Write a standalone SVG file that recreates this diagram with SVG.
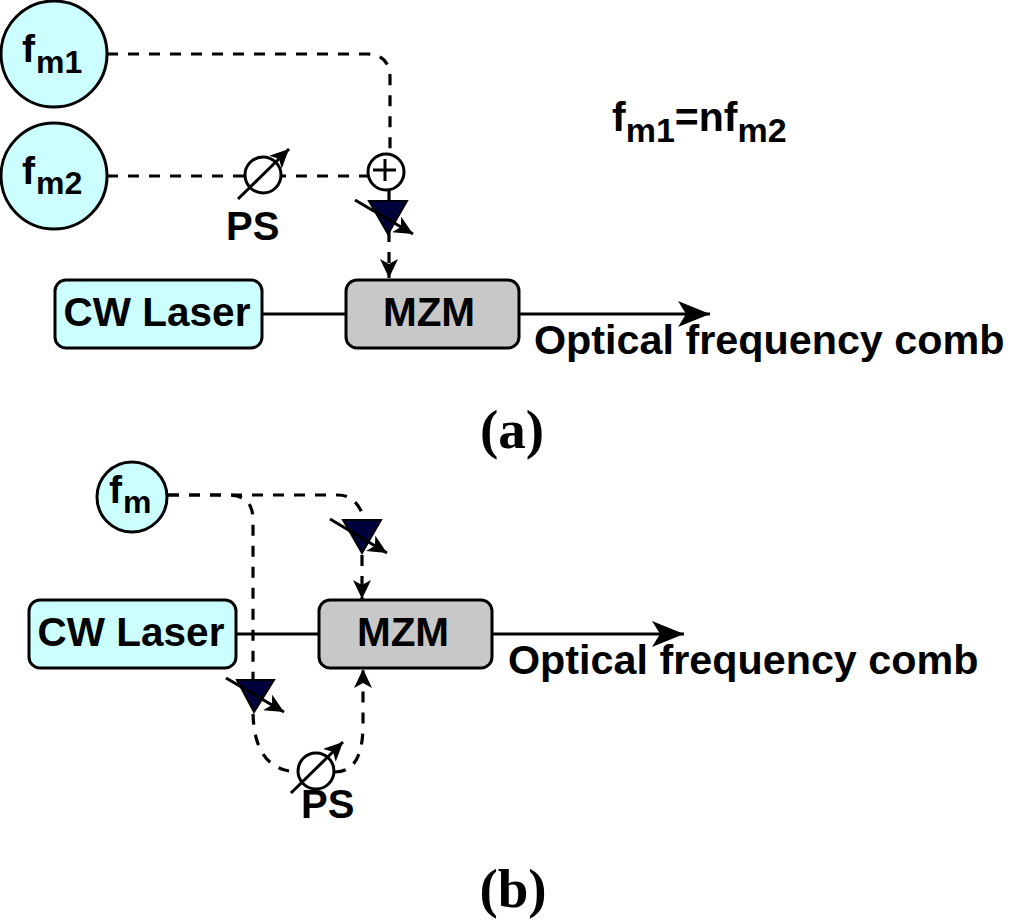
<svg xmlns="http://www.w3.org/2000/svg" width="1025" height="922" viewBox="0 0 1025 922">
<defs>
<marker id="big" markerUnits="userSpaceOnUse" markerWidth="34" markerHeight="26" refX="32" refY="13" orient="auto"><path d="M0 0L32 13L0 26L8 13Z" fill="#000"/></marker>
<marker id="small" markerUnits="userSpaceOnUse" markerWidth="20" markerHeight="18" refX="19" refY="9" orient="auto"><path d="M0 0L19 9L0 18L5 9Z" fill="#000"/></marker>
</defs>
<style>
.t{font-family:"Liberation Sans",Arial,sans-serif;font-weight:700;fill:#000}
.cap{font-family:"Liberation Serif","Times New Roman",serif;font-weight:700;font-size:55px;fill:#000}
.n{stroke:#000;stroke-width:3}
.cy{fill:#ccffff}
.gr{fill:#c8c8c8}
.d{fill:none;stroke:#000;stroke-width:3.2;stroke-dasharray:11 10}
.s{fill:none;stroke:#000;stroke-width:3}
.tri{fill:#00003c;stroke:#000;stroke-width:2}
.c{fill:#fff;stroke:#000;stroke-width:3}
</style>
<g id="connectors">
<path class="d" d="M107 54H366Q390 54 390 78V155"/>
<path class="d" d="M107 176H368"/>
<path class="d" d="M389 189V278" marker-end="url(#small)"/>
<path class="s" d="M263 314H345"/>
<path class="s" d="M519 314H710" marker-end="url(#big)"/>
<path class="d" d="M168 495H338Q358 495 365 522"/>
<path class="d" d="M168 495H228Q253 495 253 520V710Q253 772 300 772"/>
<path class="d" d="M362 555V599" marker-end="url(#small)"/>
<path class="d" d="M335 772Q363 772 363 725V669" marker-end="url(#small)"/>
<path class="s" d="M237 634H319"/>
<path class="s" d="M492 634H684" marker-end="url(#big)"/>
</g>
<g id="fm1"><circle class="n cy" cx="54" cy="54" r="53"/><text class="t" x="22" y="62" font-size="39">f<tspan font-size="32" dy="11" dx="1">m1</tspan></text></g>
<g id="fm2"><circle class="n cy" cx="54" cy="176" r="53"/><text class="t" x="22" y="184" font-size="39">f<tspan font-size="32" dy="10" dx="1">m2</tspan></text></g>
<g id="equation"><text class="t" x="612" y="131" font-size="41">f<tspan font-size="34" dy="11">m1</tspan><tspan dy="-11">=nf</tspan><tspan font-size="34" dy="11">m2</tspan></text></g>
<g id="ps-a"><circle class="c" cx="263" cy="175" r="18"/><path class="s" d="M238 199L289 149" marker-end="url(#small)"/><text class="t" x="226" y="240" font-size="40">PS</text></g>
<g id="combiner"><circle class="c" cx="386" cy="172" r="18"/><path class="s" d="M373 170H396M385 159V181" stroke-width="2.5"/></g>
<g id="amp-a"><path class="tri" d="M369 201H407L388 234Z"/><path class="s" d="M355 200L413 234" marker-end="url(#small)"/></g>
<g id="laser-a"><rect class="n cy" x="55" y="280" width="207" height="68" rx="11"/><text class="t" x="157" y="326" font-size="40.5" text-anchor="middle">CW Laser</text></g>
<g id="mzm-a"><rect class="n gr" x="346" y="280" width="173" height="68" rx="11"/><text class="t" x="429" y="326" font-size="40.5" text-anchor="middle">MZM</text></g>
<g id="label-comb-a"><text class="t" x="534" y="354" font-size="41.3">Optical frequency comb</text></g>
<g id="caption-a"><text class="cap" x="512" y="448" text-anchor="middle">(a)</text></g>
<g id="fm"><circle class="n cy" cx="132" cy="497" r="35"/><text class="t" x="109" y="503" font-size="39">f<tspan font-size="32" dy="10" dx="1">m</tspan></text></g>
<g id="amp-b1"><path class="tri" d="M343 520H381L362 553Z"/><path class="s" d="M330 519L387 553" marker-end="url(#small)"/></g>
<g id="laser-b"><rect class="n cy" x="29" y="600" width="207" height="68" rx="11"/><text class="t" x="131" y="646" font-size="40.5" text-anchor="middle">CW Laser</text></g>
<g id="mzm-b"><rect class="n gr" x="319" y="600" width="173" height="68" rx="11"/><text class="t" x="403" y="646" font-size="40.5" text-anchor="middle">MZM</text></g>
<g id="label-comb-b"><text class="t" x="508" y="674" font-size="41.3">Optical frequency comb</text></g>
<g id="amp-b2"><path class="tri" d="M237 680H274L254 712Z"/><path class="s" d="M226 678L284 712" marker-end="url(#small)"/></g>
<g id="ps-b"><circle class="c" cx="316" cy="771" r="18"/><path class="s" d="M291 793L343 742" marker-end="url(#small)"/><text class="t" x="301" y="818" font-size="40">PS</text></g>
<g id="caption-b"><text class="cap" x="513" y="907" text-anchor="middle">(b)</text></g>
</svg>
